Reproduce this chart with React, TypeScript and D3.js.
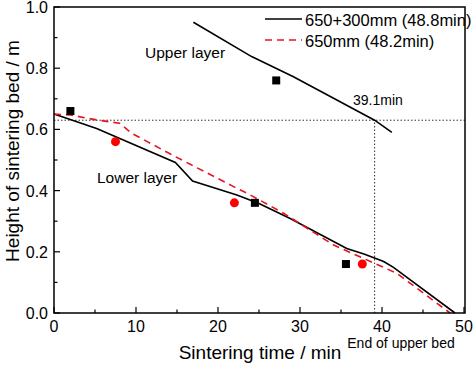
import React from "react";
import * as d3 from "d3";

// upper layer (650+300mm) solid
const upperLine: [number, number][] = [
  [17, 0.95], [24.1, 0.838], [29.2, 0.772], [39.1, 0.63], [41.2, 0.59],
];
// lower layer (650+300mm) solid
const lowerLine: [number, number][] = [
  [0, 0.65], [5.2, 0.603], [14.8, 0.492], [16.9, 0.431], [22.3, 0.386],
  [25, 0.358], [28.8, 0.309], [35.7, 0.211], [37.8, 0.193], [40.2, 0.168],
  [41.4, 0.149], [48.9, 0],
];
// 650mm dashed
const redLine: [number, number][] = [
  [0, 0.65], [2, 0.647], [5.2, 0.631], [8, 0.62], [9.5, 0.587], [14.8, 0.511],
  [21.9, 0.413], [23.5, 0.392], [28, 0.326], [34.1, 0.222], [38.6, 0.168],
  [41.8, 0.13], [48.3, 0],
];
const blackSquares: [number, number][] = [[2, 0.66], [27.1, 0.76], [24.5, 0.36], [35.6, 0.16]];
const redCircles: [number, number][] = [[7.5, 0.56], [22, 0.36], [37.6, 0.16]];

const xTicks = [0, 10, 20, 30, 40, 50];
const xMinor = [5, 15, 25, 35, 45];
const yTicks = [0, 0.2, 0.4, 0.6, 0.8, 1.0];
const yMinor = [0.1, 0.3, 0.5, 0.7, 0.9];
const endTime = 39.1;
const endHeight = 0.63;
const legendItems = ["650+300mm (48.8min)", "650mm (48.2min)"];

const W = 474, H = 365;
const m = { left: 54, right: 465, top: 7, bottom: 313 };

export default function App() {
  const x = d3.scaleLinear().domain([0, 50]).range([m.left, m.left + 410]);
  const y = d3.scaleLinear().domain([0, 1]).range([m.bottom, m.top]);
  const line = d3.line<[number, number]>().x(d => x(d[0])).y(d => y(d[1]));
  const font = "Arial, 'Liberation Sans', sans-serif";

  return (
    <svg width={W} height={H} style={{ position: "absolute", left: 0, top: 0 }} fontFamily={font}>
      <rect width={W} height={H} fill="#fff" />
      {/* dotted guides */}
      <line x1={x(0)} x2={m.right} y1={y(endHeight)} y2={y(endHeight)} stroke="#333" strokeWidth={1} strokeDasharray="1.5,2" />
      <line x1={x(endTime)} x2={x(endTime)} y1={y(0)} y2={y(endHeight)} stroke="#333" strokeWidth={1} strokeDasharray="1.5,2" />

      <path d={line(upperLine) || ""} fill="none" stroke="#000" strokeWidth={1.6} />
      <path d={line(lowerLine) || ""} fill="none" stroke="#000" strokeWidth={1.6} />
      <path d={line(redLine) || ""} fill="none" stroke="#e8141e" strokeWidth={1.6} strokeDasharray="7,5" />

      {blackSquares.map((d, i) => (
        <rect key={i} x={x(d[0]) - 4} y={y(d[1]) - 4} width={8} height={8} fill="#000" />
      ))}
      {redCircles.map((d, i) => (
        <circle key={i} cx={x(d[0])} cy={y(d[1])} r={4.5} fill="#f00" />
      ))}

      {/* frame */}
      <rect x={m.left} y={m.top} width={m.right - m.left} height={m.bottom - m.top} fill="none" stroke="#000" strokeWidth={1.5} />

      {/* ticks */}
      {xTicks.map(t => (
        <g key={t}>
          <line x1={x(t)} x2={x(t)} y1={m.bottom} y2={m.bottom - 6} stroke="#000" strokeWidth={1.2} />
          <text x={x(t)} y={m.bottom + 19} textAnchor="middle" fontSize={16}>{t}</text>
        </g>
      ))}
      {xMinor.map(t => (
        <line key={t} x1={x(t)} x2={x(t)} y1={m.bottom} y2={m.bottom - 3.5} stroke="#000" strokeWidth={1.2} />
      ))}
      {yTicks.map(t => (
        <g key={t}>
          <line x1={m.left} x2={m.left + 6} y1={y(t)} y2={y(t)} stroke="#000" strokeWidth={1.2} />
          <text x={m.left - 6} y={y(t) + 6} textAnchor="end" fontSize={16}>{t.toFixed(1)}</text>
        </g>
      ))}
      {yMinor.map(t => (
        <line key={t} x1={m.left} x2={m.left + 3.5} y1={y(t)} y2={y(t)} stroke="#000" strokeWidth={1.2} />
      ))}

      {/* axis titles */}
      <text x={260} y={359} textAnchor="middle" fontSize={19}>Sintering time / min</text>
      <text transform={`translate(19,151) rotate(-90)`} textAnchor="middle" fontSize={19}>Height of sintering bed / m</text>

      {/* annotations */}
      <text x={145} y={58} fontSize={15.5}>Upper layer</text>
      <text x={97} y={183} fontSize={15.5}>Lower layer</text>
      <text x={353} y={105} fontSize={14}>39.1min</text>
      <text x={401} y={348} textAnchor="middle" fontSize={14}>End of upper bed</text>

      {/* legend */}
      <line x1={265} x2={302} y1={19} y2={19} stroke="#000" strokeWidth={1.6} />
      <text x={305} y={26} fontSize={16.5}>{legendItems[0]}</text>
      <line x1={265} x2={302} y1={40} y2={40} stroke="#e8141e" strokeWidth={1.6} strokeDasharray="7,5" />
      <text x={305} y={47} fontSize={16.5}>{legendItems[1]}</text>
    </svg>
  );
}
